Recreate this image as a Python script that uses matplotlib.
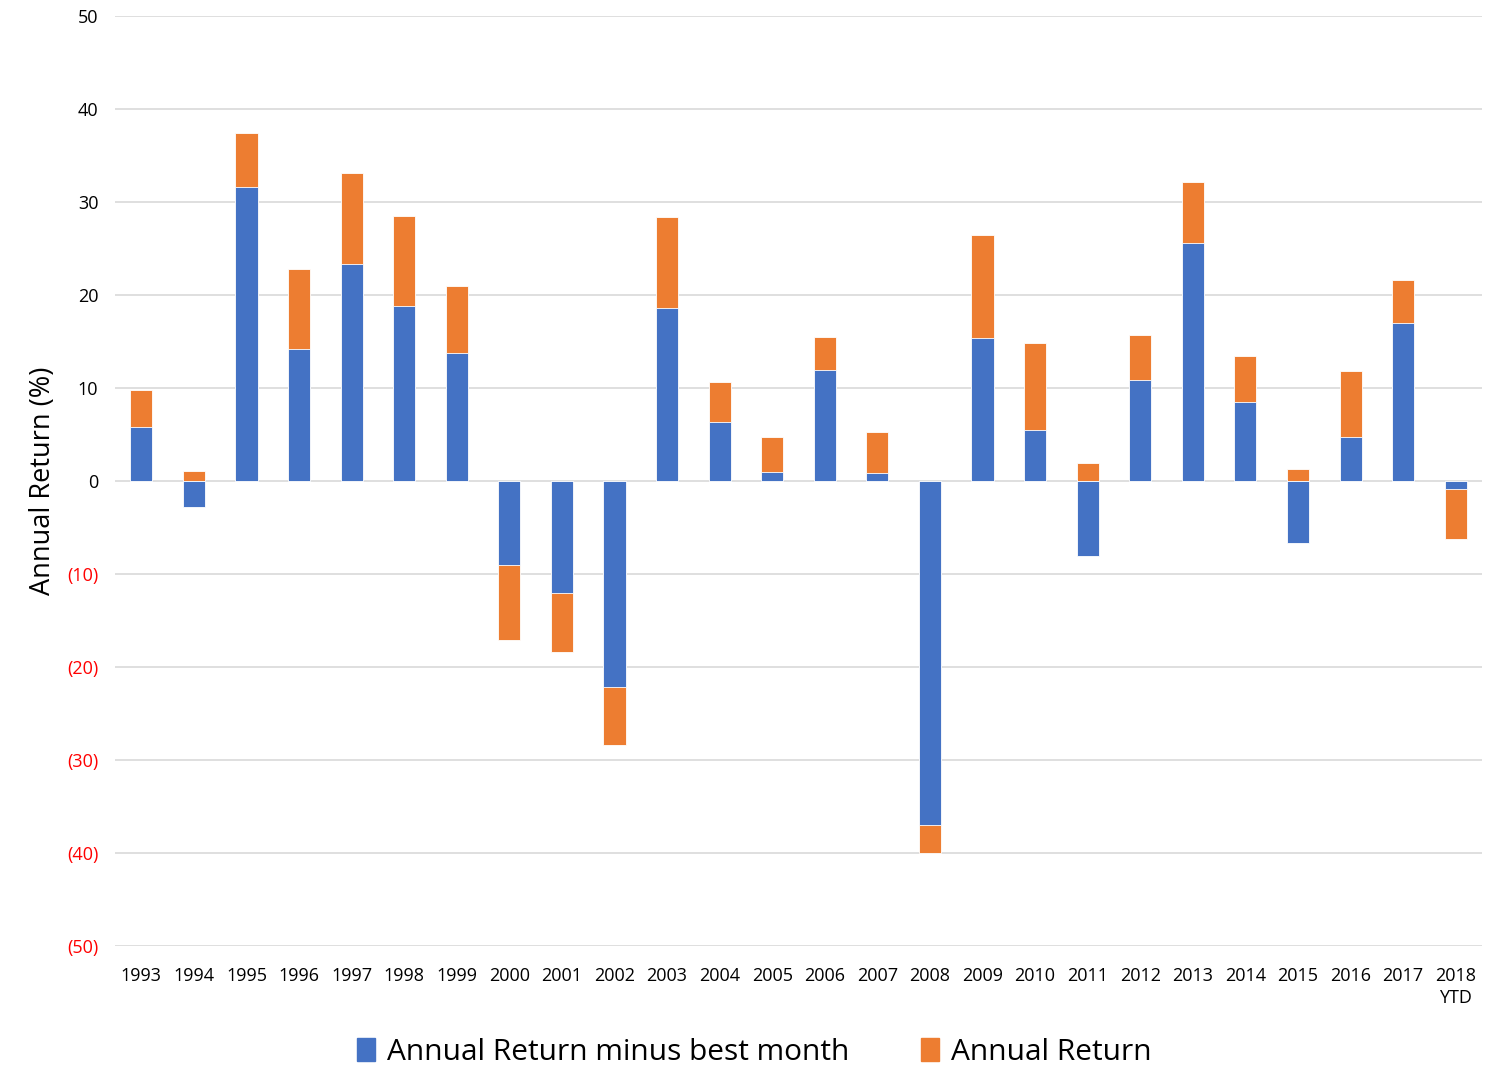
import numpy as np
import matplotlib.pyplot as plt
from matplotlib.patches import Patch

plt.rcParams['font.family'] = ['Open Sans', 'DejaVu Sans']

# ----- data -----
years = ["1993", "1994", "1995", "1996", "1997", "1998", "1999", "2000", "2001",
         "2002", "2003", "2004", "2005", "2006", "2007", "2008", "2009", "2010",
         "2011", "2012", "2013", "2014", "2015", "2016", "2017", "2018\nYTD"]
annual_return = [9.8, 1.1, 37.4, 22.8, 33.1, 28.5, 21.0, -17.1, -18.4, -28.4,
                 28.4, 10.6, 4.7, 15.5, 5.3, -40.0, 26.5, 14.8, 1.9, 15.7,
                 32.2, 13.4, 1.3, 11.8, 21.6, -6.2]
minus_best = [5.8, -2.8, 31.6, 14.2, 23.3, 18.8, 13.8, -9.0, -12.0, -22.2,
              18.6, 6.3, 1.0, 11.9, 0.9, -37.0, 15.4, 5.5, -8.1, 10.9,
              25.6, 8.5, -6.7, 4.7, 17.0, -0.9]
yticks = [50, 40, 30, 20, 10, 0, -10, -20, -30, -40, -50]

blue = "#4472C4"
orange = "#ED7D31"

fig = plt.figure(figsize=(15, 10.86), dpi=100)
ax = fig.add_axes([0.0767, 0.1289, 0.9113, 0.8564])

x = np.arange(len(years))
ax.bar(x, annual_return, width=0.42, color=orange, edgecolor="white", linewidth=0.6, zorder=2)
ax.bar(x, minus_best, width=0.42, color=blue, edgecolor="white", linewidth=0.6, zorder=3)

ax.set_ylim(-50, 50)
ax.set_xlim(-0.5, len(years) - 0.5)
ax.set_yticks(yticks)
labels = []
for v in yticks:
    labels.append(f"({abs(v)})" if v < 0 else str(v))
ax.set_yticklabels(labels, fontsize=13)
for lbl, v in zip(ax.get_yticklabels(), yticks):
    if v < 0:
        lbl.set_color("red")
ax.set_xticks(x)
ax.set_xticklabels(years, fontsize=13, linespacing=1.3)
ax.tick_params(axis="y", length=0, pad=12)
ax.tick_params(axis="x", length=0, pad=15)
ax.grid(axis="y", color="#d9d9d9", linewidth=1.2, zorder=0)
for s in ax.spines.values():
    s.set_visible(False)

ax.set_ylabel("Annual Return (%)", fontsize=19.5, labelpad=7)

handles = [Patch(color=blue, label="Annual Return minus best month"),
           Patch(color=orange, label="Annual Return")]
fig.legend(handles=handles, loc="center", bbox_to_anchor=(0.503, 0.031), ncol=2,
           frameon=False, fontsize=21.5, handlelength=0.6, handleheight=0.8,
           handletextpad=0.4, columnspacing=2.4)

fig.savefig("out.png", dpi=100)
